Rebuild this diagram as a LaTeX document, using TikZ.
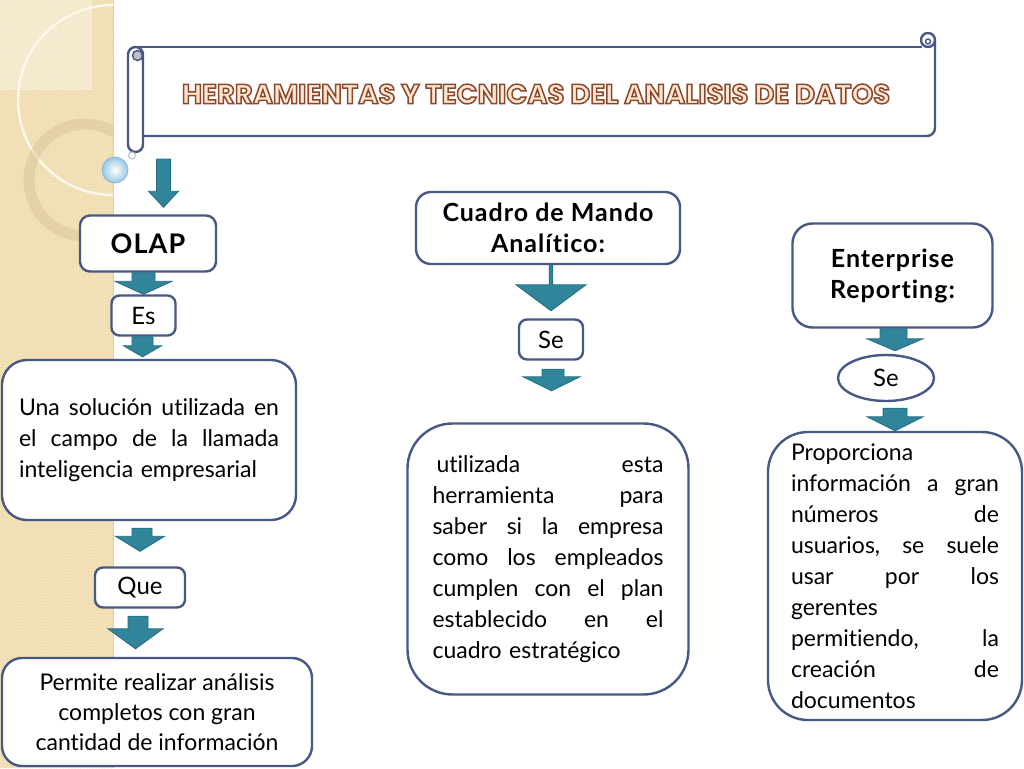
\documentclass[tikz,border=0pt]{standalone}
\usepackage{fontspec}
\setmainfont{Lato}[Ligatures=NoCommon]
\newfontfamily\headfont{Lato}[Ligatures=NoCommon, LetterSpace=4]
\newfontfamily\titlefont{Poppins}
\usetikzlibrary{shapes.geometric,patterns,calc}
\definecolor{boxline}{RGB}{72,88,132}
\definecolor{arrowfill}{RGB}{49,133,155}
\definecolor{arrowedge}{RGB}{38,108,128}
\definecolor{strip}{RGB}{243,226,186}
\definecolor{stripdot}{RGB}{232,210,162}
\definecolor{stripedge}{RGB}{228,208,165}
\definecolor{creamline}{RGB}{252,248,236}
\definecolor{ringc}{RGB}{214,192,150}
\definecolor{bubble}{RGB}{150,200,226}
\definecolor{bubbleedge}{RGB}{135,185,212}
\definecolor{titlefill}{RGB}{252,230,208}
\definecolor{curlgrey}{RGB}{190,192,200}
\newcommand{\jl}[2]{\leavevmode\hbox to #1{#2}}
\newcommand{\outlinetext}[1]{\special{pdf:literal direct 2 Tr 1.5 w 0.55 0.28 0.17 RG}#1\special{pdf:literal direct 0 Tr}}
\newcommand{\blockarrow}[5]{%
  \fill[arrowfill, draw=arrowedge, line width=0.8pt, line join=miter] let \p1=#1, \p2=#2 in
   (\x1-#3,\y1) -- (\x1+#3,\y1) -- (\x1+#3,\y2+#5) -- (\x2+#4,\y2+#5) -- (\x2,\y2)
   -- (\x2-#4,\y2+#5) -- (\x1-#3,\y2+#5) -- cycle;}
\begin{document}
\begin{tikzpicture}[x=1pt,y=-1pt,
  box/.style={draw=boxline, line width=2.4pt, fill=white, rounded corners=#1, inner sep=0pt},
  box/.default=10pt,
  scroll/.style={draw=boxline, line width=2.4pt},
  head/.style={font=\headfont\bfseries\fontsize{25}{31}\selectfont, align=center},
  body/.style={font=\fontsize{23}{31}\selectfont},
  small/.style={font=\fontsize{24}{26}\selectfont}]
\useasboundingbox (0,0) rectangle (1024,768);
% background strip
\fill[strip] (0,0) rectangle (113,768);
\fill[pattern=crosshatch dots, pattern color=stripdot] (0,0) rectangle (113,768);
\fill[white, opacity=0.35] (0,0) rectangle (92,90);
\begin{scope}
  \clip (0,0) rectangle (113,768);
  \draw[creamline, line width=2.5pt] (113,100) circle (95pt);
  \draw[ringc, line width=11pt, opacity=0.45] (85,180) circle (56pt);
\end{scope}
\draw[stripedge, line width=1pt] (113,0) -- (113,768);
% title scroll
\fill[white] (143,47) rectangle (935,136);
\draw[scroll] (136,47) -- (922,47);
\draw[scroll, fill=white] (928,40) circle (7pt);
\draw[boxline, line width=1.5pt] (928,41.5) circle (2.5pt);
\draw[scroll, line join=round] (935,40) -- (935,128) arc[start angle=0, end angle=-90, radius=8pt] -- (143,136);
\draw[scroll, fill=white, rounded corners=7.5pt] (128,47) rectangle (143,152);
\draw[boxline, line width=1.5pt, fill=curlgrey] (137.5,55.5) circle (5pt);
\draw[boxline!40, line width=1pt, fill=white] (132,155.5) circle (3.5pt);
\shade[inner color=white, outer color=bubble, draw=bubbleedge, line width=0.8pt] (115,170) circle (13pt);
\node[font=\titlefont\bfseries\fontsize{27.5}{27.5}\selectfont, text=titlefill] (title) at (536,94)
  {\outlinetext{HERRAMIENTAS Y TECNICAS DEL ANALISIS DE DATOS}};
\coordinate (a1) at (163.5,159);
% left column
\node[box=10pt, minimum width=136pt, minimum height=56pt, font=\headfont\bfseries\fontsize{27}{29}\selectfont] (olap) at (148,243.5) {OLAP};
\node[box=8pt, minimum width=64pt, minimum height=40pt, small] (es) at (143.5,315.5) {Es};
\node[box=25pt, minimum width=294pt, minimum height=160pt, text width=260pt, body] (una) at (149,440)
  {\jl{260pt}{Una\hfill solución\hfill utilizada\hfill en}\\\jl{260pt}{el\hfill campo\hfill de\hfill la\hfill llamada}\\inteligencia empresarial};
\node[box=8pt, minimum width=90pt, minimum height=40pt, small] (que) at (140,587.5) {Que};
\node[box=20pt, minimum width=310pt, minimum height=108pt, align=center, font=\fontsize{23}{30}\selectfont] (permite) at (157,712)
  {Permite realizar análisis\\completos con gran\\cantidad de información};
% middle column
\node[box=15pt, minimum width=264pt, minimum height=72pt, head] (cuadro) at (548,228) {Cuadro de Mando\\Analítico:};
\node[box=8pt, minimum width=64pt, minimum height=40pt, small] (se1) at (551,339.5) {Se};
\node[box=45pt, minimum width=281pt, minimum height=271pt, text width=231pt, body] (util) at (548,559)
  {\jl{231pt}{\hspace{4pt}utilizada\hfill esta}\\\jl{231pt}{herramienta\hfill para}\\\jl{231pt}{saber\hfill si\hfill la\hfill empresa}\\\jl{231pt}{como\hfill los\hfill empleados}\\\jl{231pt}{cumplen\hfill con\hfill el\hfill plan}\\\jl{231pt}{establecido\hfill en\hfill el}\\cuadro estratégico};
% right column
\node[box=20pt, minimum width=200pt, minimum height=104pt, head] (enter) at (892.5,275.5) {Enterprise\\Reporting:};
\node[ellipse, draw=boxline, line width=2.4pt, fill=white, minimum width=96pt, minimum height=46pt, inner sep=0pt, small] (se2) at (886,378) {Se};
\node[box=40pt, minimum width=254pt, minimum height=288pt, text width=208pt, body] (prop) at (895,576)
  {Proporciona\\\jl{208pt}{información\hfill a\hfill gran}\\\jl{208pt}{números\hfill de}\\\jl{208pt}{usuarios,\hfill se\hfill suele}\\\jl{208pt}{usar\hfill por\hfill los}\\gerentes\\\jl{208pt}{permitiendo,\hfill la}\\\jl{208pt}{creación\hfill de}\\documentos};
% block arrows
\blockarrow{(a1)}{([xshift=15.5pt,yshift=7pt]olap.north)}{7pt}{15pt}{16pt}
\blockarrow{([xshift=-4.5pt]olap.south)}{(es.north)}{11.5pt}{28.5pt}{13pt}
\blockarrow{([xshift=-1pt]es.south)}{([xshift=-6.5pt,yshift=2pt]una.north)}{10.5pt}{19pt}{11pt}
\blockarrow{([xshift=-7pt,yshift=-7pt]una.south)}{([xshift=0pt,yshift=15pt]que.north)}{10pt}{24.5pt}{15pt}
\blockarrow{([xshift=-2pt,yshift=-7.5pt]que.south)}{([xshift=-21.5pt,yshift=8pt]permite.north)}{10pt}{27.5pt}{20pt}
\blockarrow{([xshift=3pt]cuadro.south)}{([yshift=7.5pt]se1.north)}{1.8pt}{35pt}{26pt}
\blockarrow{([xshift=2pt,yshift=-8.5pt]se1.south)}{([xshift=3.5pt,yshift=31.5pt]util.north)}{11pt}{28.5pt}{14pt}
\blockarrow{([xshift=1pt]enter.south)}{([xshift=9pt,yshift=3pt]se2.north)}{13.5pt}{28pt}{12pt}
\blockarrow{([xshift=9pt,yshift=-6pt]se2.south)}{(prop.north)}{12pt}{28pt}{14pt}
\end{tikzpicture}
\end{document}
